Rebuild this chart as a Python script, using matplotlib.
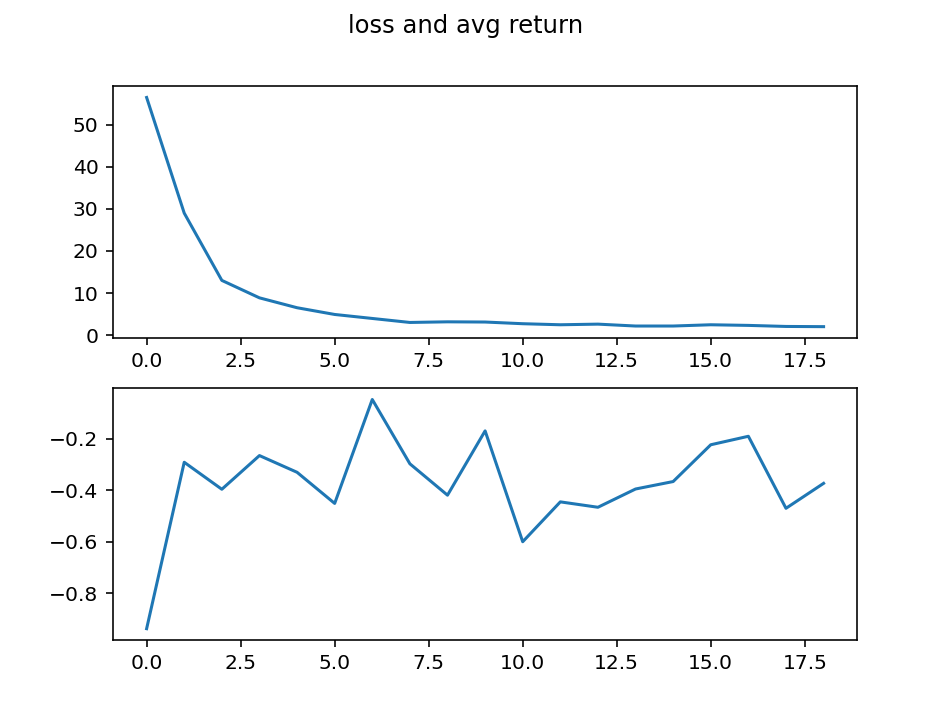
import matplotlib
matplotlib.use('Agg')
import matplotlib.pyplot as plt

# values
epochs = list(range(19))
loss = [56.5, 29.0, 13.0, 8.85, 6.5, 4.9, 3.95, 3.0, 3.15, 3.1,
        2.7, 2.45, 2.6, 2.15, 2.15, 2.45, 2.3, 2.05, 2.0]
avg_return = [-0.938, -0.291, -0.396, -0.265, -0.330, -0.451, -0.047,
              -0.297, -0.419, -0.169, -0.600, -0.445, -0.466, -0.395,
              -0.366, -0.223, -0.190, -0.470, -0.373]

fig, (ax1, ax2) = plt.subplots(2, 1, figsize=(932 / 145.6, 705 / 145.6), dpi=145.6)
fig.suptitle('loss and avg return')

ax1.plot(epochs, loss)
ax2.plot(epochs, avg_return)

fig.subplots_adjust(left=0.121, right=0.92, top=0.878, bottom=0.092, hspace=0.198)
fig.savefig('out.png', dpi=145.6)
